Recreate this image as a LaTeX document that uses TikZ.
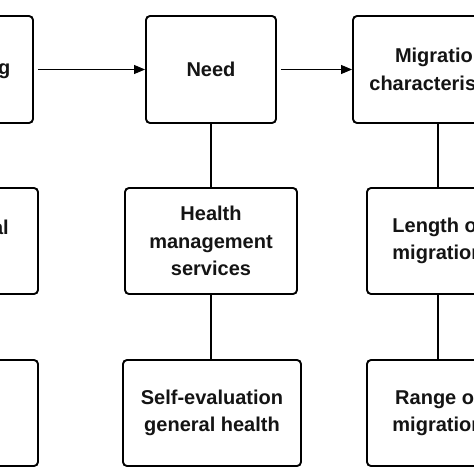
\documentclass[tikz,border=0pt]{standalone}
\usepackage{fontspec}
\setmainfont{Liberation Sans}
\usetikzlibrary{arrows.meta}
\tikzset{
  box/.style={draw, line width=1.9pt, rounded corners=4pt, fill=white, align=center,
    font=\bfseries\fontsize{20}{27.5}\selectfont, inner sep=0pt, text=black!92},
  rowa/.style={minimum height=107pt},
  rowb/.style={minimum height=106pt},
  link/.style={line width=1.4pt},
  arr/.style={line width=1pt, shorten <=4pt, -{Triangle[length=11pt,width=9pt]}}
}
\begin{document}
\begin{tikzpicture}[x=1pt,y=-1pt]
\useasboundingbox (0,0) rectangle (474,474);
\clip (0,0) rectangle (474,474);
\fill[white] (0,0) rectangle (474,474);
% top row
\node[box, rowa, minimum width=130pt] (enab) at (-32,69.5) {Enabling};
\node[box, rowa, minimum width=130pt] (need) at (211,69.5) {Need};
\node[box, rowa, minimum width=174pt] (mig) at (440,69.5) {Migration\\characteristics};
% second row
\node[box, rowb, minimum width=172pt] (educ) at (-48,241) {Educational\\level};
\node[box, rowb, minimum width=172pt] (health) at (211,241) {Health\\management\\services};
\node[box, rowb, minimum width=142pt] (length) at (438,241) {Length of\\migration};
% third row
\node[box, rowb, minimum width=172pt] (insur) at (-48,413) {Medical\\insurance};
\node[box, rowb, minimum width=178pt] (self) at (212,413) {Self-evaluation\\general health};
\node[box, rowb, minimum width=142pt] (range) at (438,413) {Range of\\migration};
% connectors
\draw[arr] (enab) -- (need);
\draw[arr] (need) -- (mig);
\draw[link] (need.south) -- (health.north);
\draw[link] (health.south) -- (self.north -| health.south);
\draw[link] (mig.south -| length.north) -- (length.north);
\draw[link] (length.south) -- (range.north);
\end{tikzpicture}
\end{document}
